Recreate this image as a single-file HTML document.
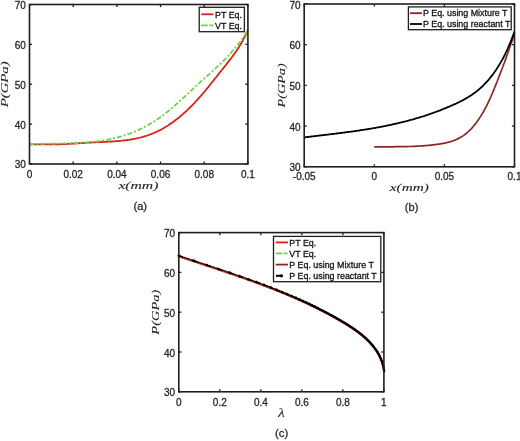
<!DOCTYPE html><html><head><meta charset="utf-8"><style>html,body{margin:0;padding:0;background:#fff;width:520px;height:441px;overflow:hidden}svg{display:block}</style></head><body><svg width="520" height="441" viewBox="0 0 520 441">
<rect width="520" height="441" fill="#fff"/>
<line x1="29.50" y1="164" x2="29.50" y2="161.4" stroke="#1f1f1f" stroke-width="1.3"/>
<line x1="29.50" y1="4.5" x2="29.50" y2="7.1" stroke="#1f1f1f" stroke-width="1.3"/>
<line x1="73.18" y1="164" x2="73.18" y2="161.4" stroke="#1f1f1f" stroke-width="1.3"/>
<line x1="73.18" y1="4.5" x2="73.18" y2="7.1" stroke="#1f1f1f" stroke-width="1.3"/>
<line x1="116.86" y1="164" x2="116.86" y2="161.4" stroke="#1f1f1f" stroke-width="1.3"/>
<line x1="116.86" y1="4.5" x2="116.86" y2="7.1" stroke="#1f1f1f" stroke-width="1.3"/>
<line x1="160.54" y1="164" x2="160.54" y2="161.4" stroke="#1f1f1f" stroke-width="1.3"/>
<line x1="160.54" y1="4.5" x2="160.54" y2="7.1" stroke="#1f1f1f" stroke-width="1.3"/>
<line x1="204.22" y1="164" x2="204.22" y2="161.4" stroke="#1f1f1f" stroke-width="1.3"/>
<line x1="204.22" y1="4.5" x2="204.22" y2="7.1" stroke="#1f1f1f" stroke-width="1.3"/>
<line x1="247.90" y1="164" x2="247.90" y2="161.4" stroke="#1f1f1f" stroke-width="1.3"/>
<line x1="247.90" y1="4.5" x2="247.90" y2="7.1" stroke="#1f1f1f" stroke-width="1.3"/>
<line x1="29.5" y1="164.00" x2="32.1" y2="164.00" stroke="#1f1f1f" stroke-width="1.3"/>
<line x1="247.9" y1="164.00" x2="245.3" y2="164.00" stroke="#1f1f1f" stroke-width="1.3"/>
<line x1="29.5" y1="124.12" x2="32.1" y2="124.12" stroke="#1f1f1f" stroke-width="1.3"/>
<line x1="247.9" y1="124.12" x2="245.3" y2="124.12" stroke="#1f1f1f" stroke-width="1.3"/>
<line x1="29.5" y1="84.25" x2="32.1" y2="84.25" stroke="#1f1f1f" stroke-width="1.3"/>
<line x1="247.9" y1="84.25" x2="245.3" y2="84.25" stroke="#1f1f1f" stroke-width="1.3"/>
<line x1="29.5" y1="44.38" x2="32.1" y2="44.38" stroke="#1f1f1f" stroke-width="1.3"/>
<line x1="247.9" y1="44.38" x2="245.3" y2="44.38" stroke="#1f1f1f" stroke-width="1.3"/>
<line x1="29.5" y1="4.50" x2="32.1" y2="4.50" stroke="#1f1f1f" stroke-width="1.3"/>
<line x1="247.9" y1="4.50" x2="245.3" y2="4.50" stroke="#1f1f1f" stroke-width="1.3"/>
<text x="29.50" y="177.8" text-anchor="middle" style="font-family:'Liberation Sans',Arial,sans-serif;font-size:10px;stroke:#262626;stroke-width:0.28px" fill="#262626">0</text>
<text x="73.18" y="177.8" text-anchor="middle" style="font-family:'Liberation Sans',Arial,sans-serif;font-size:10px;stroke:#262626;stroke-width:0.28px" fill="#262626">0.02</text>
<text x="116.86" y="177.8" text-anchor="middle" style="font-family:'Liberation Sans',Arial,sans-serif;font-size:10px;stroke:#262626;stroke-width:0.28px" fill="#262626">0.04</text>
<text x="160.54" y="177.8" text-anchor="middle" style="font-family:'Liberation Sans',Arial,sans-serif;font-size:10px;stroke:#262626;stroke-width:0.28px" fill="#262626">0.06</text>
<text x="204.22" y="177.8" text-anchor="middle" style="font-family:'Liberation Sans',Arial,sans-serif;font-size:10px;stroke:#262626;stroke-width:0.28px" fill="#262626">0.08</text>
<text x="247.90" y="177.8" text-anchor="middle" style="font-family:'Liberation Sans',Arial,sans-serif;font-size:10px;stroke:#262626;stroke-width:0.28px" fill="#262626">0.1</text>
<text x="25.8" y="168.40" text-anchor="end" style="font-family:'Liberation Sans',Arial,sans-serif;font-size:10px;stroke:#262626;stroke-width:0.28px" fill="#262626">30</text>
<text x="25.8" y="128.53" text-anchor="end" style="font-family:'Liberation Sans',Arial,sans-serif;font-size:10px;stroke:#262626;stroke-width:0.28px" fill="#262626">40</text>
<text x="25.8" y="88.65" text-anchor="end" style="font-family:'Liberation Sans',Arial,sans-serif;font-size:10px;stroke:#262626;stroke-width:0.28px" fill="#262626">50</text>
<text x="25.8" y="48.77" text-anchor="end" style="font-family:'Liberation Sans',Arial,sans-serif;font-size:10px;stroke:#262626;stroke-width:0.28px" fill="#262626">60</text>
<text x="25.8" y="8.90" text-anchor="end" style="font-family:'Liberation Sans',Arial,sans-serif;font-size:10px;stroke:#262626;stroke-width:0.28px" fill="#262626">70</text>
<polyline points="29.5,144.3 30.2,144.3 31.0,144.3 31.7,144.3 32.4,144.3 33.2,144.3 33.9,144.3 34.6,144.3 35.3,144.3 36.1,144.3 36.8,144.3 37.5,144.3 38.3,144.3 39.0,144.3 39.7,144.3 40.5,144.3 41.2,144.3 41.9,144.3 42.6,144.3 43.4,144.3 44.1,144.3 44.8,144.3 45.6,144.3 46.3,144.3 47.0,144.3 47.8,144.3 48.5,144.3 49.2,144.3 50.0,144.3 50.7,144.3 51.4,144.3 52.1,144.3 52.9,144.3 53.6,144.3 54.3,144.3 55.1,144.3 55.8,144.3 56.5,144.3 57.3,144.3 58.0,144.3 58.7,144.3 59.4,144.3 60.2,144.3 60.9,144.3 61.6,144.2 62.4,144.2 63.1,144.2 63.8,144.1 64.6,144.1 65.3,144.1 66.0,144.0 66.8,144.0 67.5,143.9 68.2,143.9 68.9,143.9 69.7,143.8 70.4,143.8 71.1,143.7 71.9,143.7 72.6,143.6 73.3,143.6 74.1,143.5 74.8,143.5 75.5,143.5 76.2,143.4 77.0,143.4 77.7,143.3 78.4,143.3 79.2,143.2 79.9,143.2 80.6,143.1 81.4,143.1 82.1,143.0 82.8,143.0 83.6,143.0 84.3,142.9 85.0,142.9 85.7,142.8 86.5,142.8 87.2,142.7 87.9,142.7 88.7,142.6 89.4,142.6 90.1,142.6 90.9,142.5 91.6,142.5 92.3,142.4 93.0,142.4 93.8,142.4 94.5,142.3 95.2,142.3 96.0,142.3 96.7,142.2 97.4,142.2 98.2,142.2 98.9,142.1 99.6,142.1 100.4,142.1 101.1,142.0 101.8,142.0 102.5,142.0 103.3,141.9 104.0,141.9 104.7,141.9 105.5,141.8 106.2,141.8 106.9,141.8 107.7,141.7 108.4,141.7 109.1,141.6 109.8,141.6 110.6,141.6 111.3,141.5 112.0,141.5 112.8,141.4 113.5,141.4 114.2,141.3 115.0,141.3 115.7,141.2 116.4,141.2 117.2,141.1 117.9,141.1 118.6,141.0 119.3,140.9 120.1,140.9 120.8,140.8 121.5,140.7 122.3,140.7 123.0,140.6 123.7,140.5 124.5,140.4 125.2,140.3 125.9,140.2 126.6,140.1 127.4,140.0 128.1,139.9 128.8,139.8 129.6,139.7 130.3,139.6 131.0,139.5 131.8,139.3 132.5,139.2 133.2,139.1 134.0,138.9 134.7,138.8 135.4,138.7 136.1,138.5 136.9,138.3 137.6,138.2 138.3,138.0 139.1,137.8 139.8,137.7 140.5,137.5 141.3,137.3 142.0,137.1 142.7,136.9 143.4,136.7 144.2,136.5 144.9,136.2 145.6,136.0 146.4,135.8 147.1,135.5 147.8,135.3 148.6,135.0 149.3,134.8 150.0,134.5 150.8,134.2 151.5,134.0 152.2,133.7 152.9,133.4 153.7,133.1 154.4,132.8 155.1,132.4 155.9,132.1 156.6,131.8 157.3,131.4 158.1,131.1 158.8,130.7 159.5,130.3 160.2,130.0 161.0,129.6 161.7,129.2 162.4,128.8 163.2,128.4 163.9,128.0 164.6,127.5 165.4,127.1 166.1,126.6 166.8,126.2 167.6,125.7 168.3,125.3 169.0,124.8 169.7,124.3 170.5,123.8 171.2,123.3 171.9,122.8 172.7,122.3 173.4,121.7 174.1,121.2 174.9,120.6 175.6,120.1 176.3,119.5 177.0,118.9 177.8,118.4 178.5,117.8 179.2,117.2 180.0,116.6 180.7,116.0 181.4,115.3 182.2,114.7 182.9,114.1 183.6,113.4 184.4,112.8 185.1,112.1 185.8,111.5 186.5,110.8 187.3,110.1 188.0,109.4 188.7,108.7 189.5,108.0 190.2,107.3 190.9,106.5 191.7,105.8 192.4,105.1 193.1,104.3 193.8,103.6 194.6,102.8 195.3,102.0 196.0,101.2 196.8,100.4 197.5,99.6 198.2,98.8 199.0,98.0 199.7,97.2 200.4,96.4 201.2,95.5 201.9,94.7 202.6,93.8 203.3,93.0 204.1,92.1 204.8,91.2 205.5,90.4 206.3,89.5 207.0,88.6 207.7,87.7 208.5,86.8 209.2,85.9 209.9,85.0 210.6,84.0 211.4,83.1 212.1,82.2 212.8,81.3 213.6,80.4 214.3,79.4 215.0,78.5 215.8,77.6 216.5,76.7 217.2,75.7 218.0,74.8 218.7,73.9 219.4,73.0 220.1,72.1 220.9,71.1 221.6,70.2 222.3,69.3 223.1,68.4 223.8,67.5 224.5,66.6 225.3,65.7 226.0,64.8 226.7,63.9 227.4,63.0 228.2,62.0 228.9,61.1 229.6,60.2 230.4,59.2 231.1,58.3 231.8,57.3 232.6,56.3 233.3,55.3 234.0,54.3 234.8,53.3 235.5,52.2 236.2,51.2 236.9,50.1 237.7,49.0 238.4,47.8 239.1,46.7 239.9,45.5 240.6,44.3 241.3,43.0 242.1,41.8 242.8,40.5 243.5,39.1 244.2,37.7 245.0,36.3 245.7,34.9 246.4,33.4 247.2,31.9 247.9,30.3" fill="none" stroke="#d8221c" stroke-width="1.8"/>
<polyline points="29.5,144.3 30.2,144.3 31.0,144.2 31.7,144.2 32.4,144.2 33.2,144.1 33.9,144.1 34.6,144.1 35.3,144.0 36.1,144.0 36.8,144.0 37.5,143.9 38.3,143.9 39.0,143.9 39.7,143.9 40.5,143.9 41.2,143.8 41.9,143.8 42.6,143.8 43.4,143.8 44.1,143.8 44.8,143.7 45.6,143.7 46.3,143.7 47.0,143.7 47.8,143.7 48.5,143.7 49.2,143.7 50.0,143.6 50.7,143.6 51.4,143.6 52.1,143.6 52.9,143.6 53.6,143.6 54.3,143.6 55.1,143.6 55.8,143.5 56.5,143.5 57.3,143.5 58.0,143.5 58.7,143.5 59.4,143.5 60.2,143.5 60.9,143.5 61.6,143.5 62.4,143.4 63.1,143.4 63.8,143.4 64.6,143.4 65.3,143.4 66.0,143.4 66.8,143.3 67.5,143.3 68.2,143.3 68.9,143.3 69.7,143.3 70.4,143.2 71.1,143.2 71.9,143.2 72.6,143.2 73.3,143.1 74.1,143.1 74.8,143.1 75.5,143.1 76.2,143.0 77.0,143.0 77.7,143.0 78.4,142.9 79.2,142.9 79.9,142.8 80.6,142.8 81.4,142.8 82.1,142.7 82.8,142.7 83.6,142.6 84.3,142.6 85.0,142.5 85.7,142.5 86.5,142.4 87.2,142.3 87.9,142.3 88.7,142.2 89.4,142.2 90.1,142.1 90.9,142.0 91.6,141.9 92.3,141.9 93.0,141.8 93.8,141.7 94.5,141.6 95.2,141.5 96.0,141.5 96.7,141.4 97.4,141.3 98.2,141.2 98.9,141.1 99.6,141.0 100.4,140.9 101.1,140.8 101.8,140.6 102.5,140.5 103.3,140.4 104.0,140.3 104.7,140.2 105.5,140.0 106.2,139.9 106.9,139.8 107.7,139.6 108.4,139.5 109.1,139.3 109.8,139.2 110.6,139.0 111.3,138.9 112.0,138.7 112.8,138.6 113.5,138.4 114.2,138.2 115.0,138.0 115.7,137.9 116.4,137.7 117.2,137.5 117.9,137.3 118.6,137.1 119.3,136.9 120.1,136.7 120.8,136.5 121.5,136.3 122.3,136.0 123.0,135.8 123.7,135.6 124.5,135.4 125.2,135.1 125.9,134.9 126.6,134.6 127.4,134.4 128.1,134.1 128.8,133.9 129.6,133.6 130.3,133.3 131.0,133.0 131.8,132.8 132.5,132.5 133.2,132.2 134.0,131.9 134.7,131.6 135.4,131.3 136.1,131.0 136.9,130.6 137.6,130.3 138.3,130.0 139.1,129.6 139.8,129.3 140.5,128.9 141.3,128.6 142.0,128.2 142.7,127.9 143.4,127.5 144.2,127.1 144.9,126.7 145.6,126.3 146.4,125.9 147.1,125.5 147.8,125.1 148.6,124.7 149.3,124.3 150.0,123.9 150.8,123.4 151.5,123.0 152.2,122.5 152.9,122.1 153.7,121.6 154.4,121.2 155.1,120.7 155.9,120.2 156.6,119.7 157.3,119.2 158.1,118.7 158.8,118.2 159.5,117.7 160.2,117.2 161.0,116.7 161.7,116.1 162.4,115.6 163.2,115.0 163.9,114.5 164.6,113.9 165.4,113.3 166.1,112.8 166.8,112.2 167.6,111.6 168.3,111.0 169.0,110.4 169.7,109.8 170.5,109.2 171.2,108.6 171.9,108.0 172.7,107.3 173.4,106.7 174.1,106.1 174.9,105.5 175.6,104.8 176.3,104.2 177.0,103.5 177.8,102.9 178.5,102.2 179.2,101.6 180.0,100.9 180.7,100.3 181.4,99.6 182.2,98.9 182.9,98.3 183.6,97.6 184.4,96.9 185.1,96.3 185.8,95.6 186.5,94.9 187.3,94.2 188.0,93.6 188.7,92.9 189.5,92.2 190.2,91.5 190.9,90.8 191.7,90.2 192.4,89.5 193.1,88.8 193.8,88.1 194.6,87.4 195.3,86.7 196.0,86.1 196.8,85.4 197.5,84.7 198.2,84.0 199.0,83.4 199.7,82.7 200.4,82.0 201.2,81.3 201.9,80.7 202.6,80.0 203.3,79.3 204.1,78.7 204.8,78.0 205.5,77.4 206.3,76.7 207.0,76.0 207.7,75.4 208.5,74.7 209.2,74.1 209.9,73.4 210.6,72.8 211.4,72.1 212.1,71.4 212.8,70.8 213.6,70.1 214.3,69.4 215.0,68.8 215.8,68.1 216.5,67.4 217.2,66.7 218.0,66.1 218.7,65.4 219.4,64.7 220.1,64.0 220.9,63.3 221.6,62.6 222.3,61.9 223.1,61.1 223.8,60.4 224.5,59.7 225.3,58.9 226.0,58.2 226.7,57.4 227.4,56.6 228.2,55.9 228.9,55.1 229.6,54.3 230.4,53.5 231.1,52.7 231.8,51.8 232.6,51.0 233.3,50.2 234.0,49.3 234.8,48.4 235.5,47.5 236.2,46.6 236.9,45.7 237.7,44.8 238.4,43.9 239.1,42.9 239.9,42.0 240.6,41.0 241.3,40.0 242.1,39.0 242.8,38.0 243.5,36.9 244.2,35.9 245.0,34.8 245.7,33.7 246.4,32.6 247.2,31.5 247.9,30.3" fill="none" stroke="#6cd44e" stroke-width="1.8" stroke-dasharray="5 2 2 2"/>
<rect x="29.5" y="4.5" width="218.40" height="159.50" fill="none" stroke="#1f1f1f" stroke-width="1.6"/>
<rect x="199.2" y="7.3" width="45.2" height="24.4" fill="#fff" stroke="#1f1f1f" stroke-width="1.3"/>
<line x1="201.3" y1="14.3" x2="213.5" y2="14.3" stroke="#d8221c" stroke-width="1.8"/>
<line x1="201.3" y1="25.3" x2="213.5" y2="25.3" stroke="#6cd44e" stroke-width="1.8" stroke-dasharray="6.5 1.5 3.8 2"/>
<text x="215" y="17.6" style="font-family:'Liberation Sans',Arial,sans-serif;font-size:8.9px;stroke:#111;stroke-width:0.28px" fill="#111">PT Eq.</text>
<text x="215" y="28.6" style="font-family:'Liberation Sans',Arial,sans-serif;font-size:8.9px;stroke:#111;stroke-width:0.28px" fill="#111">VT Eq.</text>
<text x="138.4" y="189.2" text-anchor="middle" textLength="40" lengthAdjust="spacingAndGlyphs" style="font-family:'Liberation Serif','Times New Roman',serif;font-style:italic;font-size:11px;stroke:#262626;stroke-width:0.1px" fill="#262626">x(mm)</text>
<text transform="translate(7.5,84.3) rotate(-90)" text-anchor="middle" textLength="46" lengthAdjust="spacingAndGlyphs" style="font-family:'Liberation Serif','Times New Roman',serif;font-style:italic;font-size:10.6px;stroke:#262626;stroke-width:0.1px" fill="#262626">P(GPa)</text>
<text x="140.3" y="210.2" text-anchor="middle" style="font-family:'Liberation Sans',Arial,sans-serif;font-size:11px;stroke:#262626;stroke-width:0.28px" fill="#262626">(a)</text>
<line x1="304.20" y1="166.8" x2="304.20" y2="164.20000000000002" stroke="#1f1f1f" stroke-width="1.3"/>
<line x1="304.20" y1="4" x2="304.20" y2="6.6" stroke="#1f1f1f" stroke-width="1.3"/>
<line x1="374.30" y1="166.8" x2="374.30" y2="164.20000000000002" stroke="#1f1f1f" stroke-width="1.3"/>
<line x1="374.30" y1="4" x2="374.30" y2="6.6" stroke="#1f1f1f" stroke-width="1.3"/>
<line x1="444.40" y1="166.8" x2="444.40" y2="164.20000000000002" stroke="#1f1f1f" stroke-width="1.3"/>
<line x1="444.40" y1="4" x2="444.40" y2="6.6" stroke="#1f1f1f" stroke-width="1.3"/>
<line x1="514.50" y1="166.8" x2="514.50" y2="164.20000000000002" stroke="#1f1f1f" stroke-width="1.3"/>
<line x1="514.50" y1="4" x2="514.50" y2="6.6" stroke="#1f1f1f" stroke-width="1.3"/>
<line x1="304.2" y1="166.80" x2="306.8" y2="166.80" stroke="#1f1f1f" stroke-width="1.3"/>
<line x1="514.5" y1="166.80" x2="511.9" y2="166.80" stroke="#1f1f1f" stroke-width="1.3"/>
<line x1="304.2" y1="126.10" x2="306.8" y2="126.10" stroke="#1f1f1f" stroke-width="1.3"/>
<line x1="514.5" y1="126.10" x2="511.9" y2="126.10" stroke="#1f1f1f" stroke-width="1.3"/>
<line x1="304.2" y1="85.40" x2="306.8" y2="85.40" stroke="#1f1f1f" stroke-width="1.3"/>
<line x1="514.5" y1="85.40" x2="511.9" y2="85.40" stroke="#1f1f1f" stroke-width="1.3"/>
<line x1="304.2" y1="44.70" x2="306.8" y2="44.70" stroke="#1f1f1f" stroke-width="1.3"/>
<line x1="514.5" y1="44.70" x2="511.9" y2="44.70" stroke="#1f1f1f" stroke-width="1.3"/>
<line x1="304.2" y1="4.00" x2="306.8" y2="4.00" stroke="#1f1f1f" stroke-width="1.3"/>
<line x1="514.5" y1="4.00" x2="511.9" y2="4.00" stroke="#1f1f1f" stroke-width="1.3"/>
<text x="304.20" y="180.0" text-anchor="middle" style="font-family:'Liberation Sans',Arial,sans-serif;font-size:10px;stroke:#262626;stroke-width:0.28px" fill="#262626">-0.05</text>
<text x="374.30" y="180.0" text-anchor="middle" style="font-family:'Liberation Sans',Arial,sans-serif;font-size:10px;stroke:#262626;stroke-width:0.28px" fill="#262626">0</text>
<text x="444.40" y="180.0" text-anchor="middle" style="font-family:'Liberation Sans',Arial,sans-serif;font-size:10px;stroke:#262626;stroke-width:0.28px" fill="#262626">0.05</text>
<text x="514.50" y="180.0" text-anchor="middle" style="font-family:'Liberation Sans',Arial,sans-serif;font-size:10px;stroke:#262626;stroke-width:0.28px" fill="#262626">0.1</text>
<text x="300.7" y="171.40" text-anchor="end" style="font-family:'Liberation Sans',Arial,sans-serif;font-size:10px;stroke:#262626;stroke-width:0.28px" fill="#262626">30</text>
<text x="300.7" y="130.70" text-anchor="end" style="font-family:'Liberation Sans',Arial,sans-serif;font-size:10px;stroke:#262626;stroke-width:0.28px" fill="#262626">40</text>
<text x="300.7" y="90.00" text-anchor="end" style="font-family:'Liberation Sans',Arial,sans-serif;font-size:10px;stroke:#262626;stroke-width:0.28px" fill="#262626">50</text>
<text x="300.7" y="49.30" text-anchor="end" style="font-family:'Liberation Sans',Arial,sans-serif;font-size:10px;stroke:#262626;stroke-width:0.28px" fill="#262626">60</text>
<text x="300.7" y="8.60" text-anchor="end" style="font-family:'Liberation Sans',Arial,sans-serif;font-size:10px;stroke:#262626;stroke-width:0.28px" fill="#262626">70</text>
<polyline points="374.3,146.9 374.8,146.9 375.2,146.9 375.7,146.9 376.2,146.9 376.6,146.9 377.1,146.9 377.6,146.9 378.1,146.9 378.5,146.8 379.0,146.8 379.5,146.8 379.9,146.8 380.4,146.8 380.9,146.8 381.3,146.8 381.8,146.8 382.3,146.8 382.7,146.8 383.2,146.8 383.7,146.8 384.1,146.8 384.6,146.8 385.1,146.8 385.6,146.8 386.0,146.8 386.5,146.8 387.0,146.8 387.4,146.8 387.9,146.8 388.4,146.8 388.8,146.8 389.3,146.8 389.8,146.8 390.2,146.8 390.7,146.8 391.2,146.8 391.6,146.8 392.1,146.8 392.6,146.8 393.1,146.8 393.5,146.8 394.0,146.8 394.5,146.7 394.9,146.7 395.4,146.7 395.9,146.7 396.3,146.7 396.8,146.7 397.3,146.7 397.7,146.7 398.2,146.7 398.7,146.7 399.2,146.7 399.6,146.7 400.1,146.7 400.6,146.7 401.0,146.7 401.5,146.7 402.0,146.7 402.4,146.7 402.9,146.7 403.4,146.6 403.8,146.6 404.3,146.6 404.8,146.6 405.2,146.6 405.7,146.6 406.2,146.6 406.7,146.6 407.1,146.6 407.6,146.6 408.1,146.5 408.5,146.5 409.0,146.5 409.5,146.5 409.9,146.5 410.4,146.5 410.9,146.5 411.3,146.4 411.8,146.4 412.3,146.4 412.7,146.4 413.2,146.4 413.7,146.4 414.2,146.3 414.6,146.3 415.1,146.3 415.6,146.3 416.0,146.2 416.5,146.2 417.0,146.2 417.4,146.2 417.9,146.1 418.4,146.1 418.8,146.1 419.3,146.1 419.8,146.0 420.3,146.0 420.7,146.0 421.2,146.0 421.7,145.9 422.1,145.9 422.6,145.9 423.1,145.8 423.5,145.8 424.0,145.8 424.5,145.7 424.9,145.7 425.4,145.6 425.9,145.6 426.3,145.6 426.8,145.5 427.3,145.5 427.8,145.4 428.2,145.4 428.7,145.3 429.2,145.3 429.6,145.3 430.1,145.2 430.6,145.2 431.0,145.1 431.5,145.1 432.0,145.0 432.4,144.9 432.9,144.9 433.4,144.8 433.8,144.8 434.3,144.7 434.8,144.7 435.3,144.6 435.7,144.5 436.2,144.5 436.7,144.4 437.1,144.4 437.6,144.3 438.1,144.2 438.5,144.1 439.0,144.1 439.5,144.0 439.9,143.9 440.4,143.9 440.9,143.8 441.4,143.7 441.8,143.6 442.3,143.6 442.8,143.5 443.2,143.4 443.7,143.3 444.2,143.2 444.6,143.1 445.1,143.0 445.6,142.9 446.0,142.8 446.5,142.7 447.0,142.6 447.4,142.5 447.9,142.4 448.4,142.3 448.9,142.1 449.3,142.0 449.8,141.9 450.3,141.8 450.7,141.6 451.2,141.5 451.7,141.3 452.1,141.2 452.6,141.0 453.1,140.8 453.5,140.7 454.0,140.5 454.5,140.3 455.0,140.1 455.4,139.9 455.9,139.7 456.4,139.5 456.8,139.3 457.3,139.1 457.8,138.9 458.2,138.6 458.7,138.4 459.2,138.1 459.6,137.9 460.1,137.6 460.6,137.3 461.0,137.1 461.5,136.8 462.0,136.5 462.5,136.2 462.9,135.9 463.4,135.5 463.9,135.2 464.3,134.9 464.8,134.5 465.3,134.2 465.7,133.8 466.2,133.4 466.7,133.0 467.1,132.6 467.6,132.2 468.1,131.8 468.5,131.4 469.0,130.9 469.5,130.5 470.0,130.0 470.4,129.6 470.9,129.1 471.4,128.6 471.8,128.1 472.3,127.6 472.8,127.0 473.2,126.5 473.7,125.9 474.2,125.4 474.6,124.8 475.1,124.2 475.6,123.6 476.1,123.0 476.5,122.4 477.0,121.7 477.5,121.1 477.9,120.4 478.4,119.7 478.9,119.1 479.3,118.4 479.8,117.6 480.3,116.9 480.7,116.2 481.2,115.4 481.7,114.6 482.1,113.9 482.6,113.1 483.1,112.3 483.6,111.4 484.0,110.6 484.5,109.7 485.0,108.9 485.4,108.0 485.9,107.1 486.4,106.2 486.8,105.3 487.3,104.3 487.8,103.4 488.2,102.4 488.7,101.4 489.2,100.4 489.6,99.4 490.1,98.4 490.6,97.3 491.1,96.3 491.5,95.2 492.0,94.1 492.5,93.0 492.9,91.9 493.4,90.8 493.9,89.7 494.3,88.5 494.8,87.4 495.3,86.2 495.7,85.0 496.2,83.8 496.7,82.7 497.2,81.5 497.6,80.3 498.1,79.0 498.6,77.8 499.0,76.6 499.5,75.4 500.0,74.2 500.4,72.9 500.9,71.7 501.4,70.5 501.8,69.2 502.3,68.0 502.8,66.7 503.2,65.5 503.7,64.2 504.2,63.0 504.7,61.7 505.1,60.4 505.6,59.2 506.1,57.9 506.5,56.6 507.0,55.3 507.5,54.0 507.9,52.7 508.4,51.4 508.9,50.0 509.3,48.7 509.8,47.3 510.3,46.0 510.7,44.6 511.2,43.2 511.7,41.8 512.2,40.4 512.6,38.9 513.1,37.5 513.6,36.0 514.0,34.5 514.5,33.0" fill="none" stroke="#8c2823" stroke-width="1.7"/>
<polyline points="304.4,137.4 305.1,137.3 305.8,137.2 306.5,137.1 307.2,137.0 307.9,137.0 308.6,136.9 309.3,136.8 310.0,136.7 310.7,136.6 311.4,136.5 312.1,136.4 312.8,136.4 313.5,136.3 314.2,136.2 314.9,136.1 315.6,136.0 316.3,135.9 317.0,135.9 317.8,135.8 318.5,135.7 319.2,135.6 319.9,135.5 320.6,135.4 321.3,135.4 322.0,135.3 322.7,135.2 323.4,135.1 324.1,135.0 324.8,134.9 325.5,134.9 326.2,134.8 326.9,134.7 327.6,134.6 328.3,134.5 329.0,134.4 329.7,134.4 330.4,134.3 331.1,134.2 331.8,134.1 332.5,134.0 333.2,133.9 333.9,133.8 334.6,133.8 335.3,133.7 336.0,133.6 336.7,133.5 337.4,133.4 338.1,133.3 338.8,133.2 339.5,133.1 340.2,133.0 340.9,133.0 341.6,132.9 342.3,132.8 343.0,132.7 343.7,132.6 344.5,132.5 345.2,132.4 345.9,132.3 346.6,132.2 347.3,132.1 348.0,132.0 348.7,131.9 349.4,131.9 350.1,131.8 350.8,131.7 351.5,131.6 352.2,131.5 352.9,131.4 353.6,131.3 354.3,131.2 355.0,131.1 355.7,131.0 356.4,130.9 357.1,130.8 357.8,130.7 358.5,130.6 359.2,130.5 359.9,130.3 360.6,130.2 361.3,130.1 362.0,130.0 362.7,129.9 363.4,129.8 364.1,129.7 364.8,129.6 365.5,129.5 366.2,129.4 366.9,129.3 367.6,129.1 368.3,129.0 369.0,128.9 369.7,128.8 370.5,128.7 371.2,128.6 371.9,128.4 372.6,128.3 373.3,128.2 374.0,128.1 374.7,128.0 375.4,127.8 376.1,127.7 376.8,127.6 377.5,127.4 378.2,127.3 378.9,127.2 379.6,127.1 380.3,126.9 381.0,126.8 381.7,126.7 382.4,126.5 383.1,126.4 383.8,126.3 384.5,126.1 385.2,126.0 385.9,125.8 386.6,125.7 387.3,125.5 388.0,125.4 388.7,125.3 389.4,125.1 390.1,125.0 390.8,124.8 391.5,124.7 392.2,124.5 392.9,124.4 393.6,124.2 394.3,124.0 395.0,123.9 395.7,123.7 396.5,123.6 397.2,123.4 397.9,123.2 398.6,123.1 399.3,122.9 400.0,122.7 400.7,122.6 401.4,122.4 402.1,122.2 402.8,122.1 403.5,121.9 404.2,121.7 404.9,121.5 405.6,121.3 406.3,121.2 407.0,121.0 407.7,120.8 408.4,120.6 409.1,120.4 409.8,120.2 410.5,120.0 411.2,119.8 411.9,119.7 412.6,119.5 413.3,119.3 414.0,119.1 414.7,118.9 415.4,118.7 416.1,118.4 416.8,118.2 417.5,118.0 418.2,117.8 418.9,117.6 419.6,117.4 420.3,117.2 421.0,117.0 421.7,116.7 422.4,116.5 423.2,116.3 423.9,116.1 424.6,115.9 425.3,115.6 426.0,115.4 426.7,115.2 427.4,114.9 428.1,114.7 428.8,114.4 429.5,114.2 430.2,114.0 430.9,113.7 431.6,113.5 432.3,113.2 433.0,113.0 433.7,112.7 434.4,112.5 435.1,112.2 435.8,112.0 436.5,111.7 437.2,111.4 437.9,111.2 438.6,110.9 439.3,110.6 440.0,110.4 440.7,110.1 441.4,109.8 442.1,109.5 442.8,109.2 443.5,109.0 444.2,108.7 444.9,108.4 445.6,108.1 446.3,107.8 447.0,107.5 447.7,107.2 448.4,106.9 449.2,106.6 449.9,106.3 450.6,106.0 451.3,105.7 452.0,105.4 452.7,105.1 453.4,104.8 454.1,104.4 454.8,104.1 455.5,103.8 456.2,103.5 456.9,103.1 457.6,102.8 458.3,102.5 459.0,102.1 459.7,101.8 460.4,101.4 461.1,101.1 461.8,100.7 462.5,100.4 463.2,100.0 463.9,99.6 464.6,99.2 465.3,98.8 466.0,98.4 466.7,98.0 467.4,97.6 468.1,97.2 468.8,96.8 469.5,96.3 470.2,95.9 470.9,95.4 471.6,95.0 472.3,94.5 473.0,94.0 473.7,93.5 474.4,93.0 475.2,92.4 475.9,91.9 476.6,91.4 477.3,90.8 478.0,90.2 478.7,89.6 479.4,89.0 480.1,88.4 480.8,87.8 481.5,87.2 482.2,86.5 482.9,85.8 483.6,85.1 484.3,84.4 485.0,83.7 485.7,83.0 486.4,82.2 487.1,81.5 487.8,80.7 488.5,79.9 489.2,79.0 489.9,78.2 490.6,77.3 491.3,76.4 492.0,75.5 492.7,74.6 493.4,73.7 494.1,72.7 494.8,71.7 495.5,70.7 496.2,69.7 496.9,68.6 497.6,67.5 498.3,66.4 499.0,65.2 499.7,64.1 500.4,62.9 501.1,61.6 501.9,60.4 502.6,59.1 503.3,57.7 504.0,56.4 504.7,55.0 505.4,53.6 506.1,52.1 506.8,50.6 507.5,49.1 508.2,47.5 508.9,45.9 509.6,44.2 510.3,42.5 511.0,40.8 511.7,39.1 512.4,37.3 513.1,35.4 513.8,33.5 514.5,31.6" fill="none" stroke="#000000" stroke-width="1.8"/>
<rect x="304.2" y="4" width="210.30" height="162.80" fill="none" stroke="#1f1f1f" stroke-width="1.6"/>
<rect x="408.4" y="6.9" width="102.8" height="22.8" fill="#fff" stroke="#1f1f1f" stroke-width="1.3"/>
<line x1="410" y1="13.2" x2="422" y2="13.2" stroke="#8c2823" stroke-width="1.8"/>
<line x1="410" y1="24" x2="422" y2="24" stroke="#000000" stroke-width="1.8"/>
<text x="423" y="16.4" style="font-family:'Liberation Sans',Arial,sans-serif;font-size:8.9px;stroke:#111;stroke-width:0.28px" fill="#111">P Eq. using Mixture T</text>
<text x="423" y="27.2" style="font-family:'Liberation Sans',Arial,sans-serif;font-size:8.9px;stroke:#111;stroke-width:0.28px" fill="#111">P Eq. using reactant T</text>
<text x="409.3" y="190.6" text-anchor="middle" textLength="39" lengthAdjust="spacingAndGlyphs" style="font-family:'Liberation Serif','Times New Roman',serif;font-style:italic;font-size:11px;stroke:#262626;stroke-width:0.1px" fill="#262626">x(mm)</text>
<text transform="translate(285.2,85.4) rotate(-90)" text-anchor="middle" textLength="44" lengthAdjust="spacingAndGlyphs" style="font-family:'Liberation Serif','Times New Roman',serif;font-style:italic;font-size:10.6px;stroke:#262626;stroke-width:0.1px" fill="#262626">P(GPa)</text>
<text x="411.6" y="210.6" text-anchor="middle" style="font-family:'Liberation Sans',Arial,sans-serif;font-size:11px;stroke:#262626;stroke-width:0.28px" fill="#262626">(b)</text>
<line x1="178.80" y1="391.8" x2="178.80" y2="389.2" stroke="#1f1f1f" stroke-width="1.3"/>
<line x1="178.80" y1="232.6" x2="178.80" y2="235.2" stroke="#1f1f1f" stroke-width="1.3"/>
<line x1="219.82" y1="391.8" x2="219.82" y2="389.2" stroke="#1f1f1f" stroke-width="1.3"/>
<line x1="219.82" y1="232.6" x2="219.82" y2="235.2" stroke="#1f1f1f" stroke-width="1.3"/>
<line x1="260.84" y1="391.8" x2="260.84" y2="389.2" stroke="#1f1f1f" stroke-width="1.3"/>
<line x1="260.84" y1="232.6" x2="260.84" y2="235.2" stroke="#1f1f1f" stroke-width="1.3"/>
<line x1="301.86" y1="391.8" x2="301.86" y2="389.2" stroke="#1f1f1f" stroke-width="1.3"/>
<line x1="301.86" y1="232.6" x2="301.86" y2="235.2" stroke="#1f1f1f" stroke-width="1.3"/>
<line x1="342.88" y1="391.8" x2="342.88" y2="389.2" stroke="#1f1f1f" stroke-width="1.3"/>
<line x1="342.88" y1="232.6" x2="342.88" y2="235.2" stroke="#1f1f1f" stroke-width="1.3"/>
<line x1="383.90" y1="391.8" x2="383.90" y2="389.2" stroke="#1f1f1f" stroke-width="1.3"/>
<line x1="383.90" y1="232.6" x2="383.90" y2="235.2" stroke="#1f1f1f" stroke-width="1.3"/>
<line x1="178.8" y1="391.80" x2="181.4" y2="391.80" stroke="#1f1f1f" stroke-width="1.3"/>
<line x1="383.9" y1="391.80" x2="381.29999999999995" y2="391.80" stroke="#1f1f1f" stroke-width="1.3"/>
<line x1="178.8" y1="352.00" x2="181.4" y2="352.00" stroke="#1f1f1f" stroke-width="1.3"/>
<line x1="383.9" y1="352.00" x2="381.29999999999995" y2="352.00" stroke="#1f1f1f" stroke-width="1.3"/>
<line x1="178.8" y1="312.20" x2="181.4" y2="312.20" stroke="#1f1f1f" stroke-width="1.3"/>
<line x1="383.9" y1="312.20" x2="381.29999999999995" y2="312.20" stroke="#1f1f1f" stroke-width="1.3"/>
<line x1="178.8" y1="272.40" x2="181.4" y2="272.40" stroke="#1f1f1f" stroke-width="1.3"/>
<line x1="383.9" y1="272.40" x2="381.29999999999995" y2="272.40" stroke="#1f1f1f" stroke-width="1.3"/>
<line x1="178.8" y1="232.60" x2="181.4" y2="232.60" stroke="#1f1f1f" stroke-width="1.3"/>
<line x1="383.9" y1="232.60" x2="381.29999999999995" y2="232.60" stroke="#1f1f1f" stroke-width="1.3"/>
<text x="178.80" y="406.0" text-anchor="middle" style="font-family:'Liberation Sans',Arial,sans-serif;font-size:10px;stroke:#262626;stroke-width:0.28px" fill="#262626">0</text>
<text x="219.82" y="406.0" text-anchor="middle" style="font-family:'Liberation Sans',Arial,sans-serif;font-size:10px;stroke:#262626;stroke-width:0.28px" fill="#262626">0.2</text>
<text x="260.84" y="406.0" text-anchor="middle" style="font-family:'Liberation Sans',Arial,sans-serif;font-size:10px;stroke:#262626;stroke-width:0.28px" fill="#262626">0.4</text>
<text x="301.86" y="406.0" text-anchor="middle" style="font-family:'Liberation Sans',Arial,sans-serif;font-size:10px;stroke:#262626;stroke-width:0.28px" fill="#262626">0.6</text>
<text x="342.88" y="406.0" text-anchor="middle" style="font-family:'Liberation Sans',Arial,sans-serif;font-size:10px;stroke:#262626;stroke-width:0.28px" fill="#262626">0.8</text>
<text x="383.90" y="406.0" text-anchor="middle" style="font-family:'Liberation Sans',Arial,sans-serif;font-size:10px;stroke:#262626;stroke-width:0.28px" fill="#262626">1</text>
<text x="175.2" y="396.40" text-anchor="end" style="font-family:'Liberation Sans',Arial,sans-serif;font-size:10px;stroke:#262626;stroke-width:0.28px" fill="#262626">30</text>
<text x="175.2" y="356.60" text-anchor="end" style="font-family:'Liberation Sans',Arial,sans-serif;font-size:10px;stroke:#262626;stroke-width:0.28px" fill="#262626">40</text>
<text x="175.2" y="316.80" text-anchor="end" style="font-family:'Liberation Sans',Arial,sans-serif;font-size:10px;stroke:#262626;stroke-width:0.28px" fill="#262626">50</text>
<text x="175.2" y="277.00" text-anchor="end" style="font-family:'Liberation Sans',Arial,sans-serif;font-size:10px;stroke:#262626;stroke-width:0.28px" fill="#262626">60</text>
<text x="175.2" y="237.20" text-anchor="end" style="font-family:'Liberation Sans',Arial,sans-serif;font-size:10px;stroke:#262626;stroke-width:0.28px" fill="#262626">70</text>
<polyline points="178.7,256.5 179.3,256.7 179.9,256.9 180.6,257.1 181.2,257.3 181.8,257.5 182.4,257.8 183.0,258.0 183.7,258.2 184.3,258.4 184.9,258.6 185.5,258.8 186.1,259.0 186.8,259.2 187.4,259.4 188.0,259.6 188.6,259.8 189.2,260.0 189.9,260.3 190.5,260.5 191.1,260.7 191.7,260.9 192.3,261.1 193.0,261.3 193.6,261.5 194.2,261.7 194.8,261.9 195.4,262.1 196.1,262.3 196.7,262.5 197.3,262.7 197.9,262.9 198.5,263.1 199.2,263.3 199.8,263.6 200.4,263.8 201.0,264.0 201.6,264.2 202.3,264.4 202.9,264.6 203.5,264.8 204.1,265.0 204.7,265.2 205.4,265.4 206.0,265.6 206.6,265.8 207.2,266.0 207.8,266.2 208.4,266.4 209.1,266.6 209.7,266.8 210.3,267.1 210.9,267.3 211.5,267.5 212.2,267.7 212.8,267.9 213.4,268.1 214.0,268.3 214.6,268.5 215.3,268.7 215.9,268.9 216.5,269.1 217.1,269.3 217.7,269.5 218.3,269.7 219.0,269.9 219.6,270.2 220.2,270.4 220.8,270.6 221.4,270.8 222.1,271.0 222.7,271.2 223.3,271.4 223.9,271.6 224.5,271.8 225.1,272.0 225.8,272.2 226.4,272.4 227.0,272.6 227.6,272.9 228.2,273.1 228.8,273.3 229.5,273.5 230.1,273.7 230.7,273.9 231.3,274.1 231.9,274.3 232.5,274.5 233.2,274.7 233.8,275.0 234.4,275.2 235.0,275.4 235.6,275.6 236.2,275.8 236.9,276.0 237.5,276.2 238.1,276.4 238.7,276.7 239.3,276.9 239.9,277.1 240.5,277.3 241.2,277.5 241.8,277.7 242.4,277.9 243.0,278.2 243.6,278.4 244.2,278.6 244.8,278.8 245.4,279.0 246.1,279.2 246.7,279.5 247.3,279.7 247.9,279.9 248.5,280.1 249.1,280.3 249.7,280.6 250.4,280.8 251.0,281.0 251.6,281.2 252.2,281.4 252.8,281.7 253.4,281.9 254.0,282.1 254.6,282.3 255.2,282.5 255.9,282.8 256.5,283.0 257.1,283.2 257.7,283.4 258.3,283.7 258.9,283.9 259.5,284.1 260.1,284.3 260.7,284.6 261.3,284.8 262.0,285.0 262.6,285.2 263.2,285.5 263.8,285.7 264.4,285.9 265.0,286.2 265.6,286.4 266.2,286.6 266.8,286.9 267.4,287.1 268.0,287.3 268.6,287.5 269.2,287.8 269.9,288.0 270.5,288.3 271.1,288.5 271.7,288.7 272.3,289.0 272.9,289.2 273.5,289.4 274.1,289.7 274.7,289.9 275.3,290.1 275.9,290.4 276.5,290.6 277.1,290.9 277.7,291.1 278.3,291.3 278.9,291.6 279.5,291.8 280.1,292.1 280.7,292.3 281.3,292.6 281.9,292.8 282.5,293.1 283.1,293.3 283.7,293.6 284.3,293.8 284.9,294.0 285.5,294.3 286.1,294.5 286.7,294.8 287.3,295.1 287.9,295.3 288.5,295.6 289.1,295.8 289.7,296.1 290.3,296.3 290.9,296.6 291.5,296.8 292.1,297.1 292.7,297.3 293.3,297.6 293.9,297.9 294.5,298.1 295.1,298.4 295.7,298.6 296.3,298.9 296.9,299.2 297.5,299.4 298.1,299.7 298.7,300.0 299.3,300.2 299.9,300.5 300.5,300.8 301.1,301.0 301.7,301.3 302.3,301.6 302.9,301.8 303.4,302.1 304.0,302.4 304.6,302.7 305.2,302.9 305.8,303.2 306.4,303.5 307.0,303.8 307.6,304.0 308.2,304.3 308.8,304.6 309.4,304.9 309.9,305.1 310.5,305.4 311.1,305.7 311.7,306.0 312.3,306.3 312.9,306.6 313.5,306.9 314.1,307.1 314.7,307.4 315.2,307.7 315.8,308.0 316.4,308.3 317.0,308.6 317.6,308.9 318.2,309.2 318.8,309.5 319.3,309.8 319.9,310.1 320.5,310.4 321.1,310.7 321.7,310.9 322.3,311.2 322.8,311.6 323.4,311.9 324.0,312.2 324.6,312.5 325.2,312.8 325.7,313.1 326.3,313.4 326.9,313.7 327.5,314.0 328.1,314.3 328.6,314.6 329.2,314.9 329.8,315.2 330.4,315.6 331.0,315.9 331.5,316.2 332.1,316.5 332.7,316.8 333.3,317.1 333.8,317.5 334.4,317.8 335.0,318.1 335.6,318.4 336.1,318.7 336.7,319.1 337.3,319.4 337.9,319.7 338.4,320.1 339.0,320.4 339.6,320.7 340.1,321.1 340.7,321.4 341.3,321.7 341.9,322.1 342.4,322.4 343.0,322.7 343.6,323.1 344.1,323.4 344.7,323.8 345.3,324.1 345.8,324.4 346.4,324.8 347.0,325.1 347.5,325.5 348.1,325.8 348.6,326.2 349.2,326.6 349.7,326.9 350.3,327.3 350.8,327.6 351.4,328.0 351.9,328.4 352.5,328.7 353.0,329.1 353.6,329.5 354.1,329.8 354.7,330.2 355.2,330.6 355.7,331.0 356.3,331.4 356.8,331.7 357.3,332.1 357.8,332.5 358.4,332.9 358.9,333.3 359.4,333.7 359.9,334.1 360.4,334.5 360.9,334.9 361.4,335.3 361.9,335.7 362.4,336.1 362.9,336.6 363.4,337.0 363.9,337.4 364.4,337.8 364.8,338.3 365.3,338.7 365.8,339.1 366.3,339.6 366.7,340.0 367.2,340.4 367.6,340.9 368.1,341.3 368.5,341.8 369.0,342.2 369.4,342.7 369.9,343.2 370.3,343.6 370.7,344.1 371.1,344.6 371.5,345.1 372.0,345.5 372.4,346.0 372.8,346.5 373.2,347.0 373.6,347.5 373.9,348.0 374.3,348.5 374.7,349.0 375.1,349.5 375.4,350.0 375.8,350.6 376.2,351.1 376.5,351.6 376.8,352.2 377.2,352.7 377.5,353.2 377.8,353.8 378.2,354.3 378.5,354.9 378.8,355.4 379.1,356.0 379.4,356.6 379.6,357.1 379.9,357.7 380.2,358.3 380.4,358.9 380.7,359.5 380.9,360.1 381.2,360.7 381.4,361.3 381.6,361.9 381.8,362.5 382.1,363.1 382.3,363.7 382.4,364.4 382.6,365.0 382.8,365.6 383.0,366.3 383.1,366.9 383.3,367.6 383.4,368.2 383.5,368.9 383.6,369.6 383.7,370.2 383.8,370.9 383.9,371.6" fill="none" stroke="#d8221c" stroke-width="1.7"/>
<polyline points="178.9,256.1 179.5,256.3 180.1,256.5 180.8,256.7 181.4,256.9 182.0,257.1 182.6,257.4 183.2,257.6 183.9,257.8 184.5,258.0 185.1,258.2 185.7,258.4 186.3,258.6 187.0,258.8 187.6,259.0 188.2,259.2 188.8,259.4 189.4,259.6 190.1,259.9 190.7,260.1 191.3,260.3 191.9,260.5 192.5,260.7 193.2,260.9 193.8,261.1 194.4,261.3 195.0,261.5 195.6,261.7 196.3,261.9 196.9,262.1 197.5,262.3 198.1,262.5 198.7,262.7 199.4,262.9 200.0,263.2 200.6,263.4 201.2,263.6 201.8,263.8 202.5,264.0 203.1,264.2 203.7,264.4 204.3,264.6 204.9,264.8 205.6,265.0 206.2,265.2 206.8,265.4 207.4,265.6 208.0,265.8 208.6,266.0 209.3,266.2 209.9,266.4 210.5,266.7 211.1,266.9 211.7,267.1 212.4,267.3 213.0,267.5 213.6,267.7 214.2,267.9 214.8,268.1 215.5,268.3 216.1,268.5 216.7,268.7 217.3,268.9 217.9,269.1 218.5,269.3 219.2,269.5 219.8,269.8 220.4,270.0 221.0,270.2 221.6,270.4 222.3,270.6 222.9,270.8 223.5,271.0 224.1,271.2 224.7,271.4 225.3,271.6 226.0,271.8 226.6,272.0 227.2,272.2 227.8,272.5 228.4,272.7 229.0,272.9 229.7,273.1 230.3,273.3 230.9,273.5 231.5,273.7 232.1,273.9 232.7,274.1 233.4,274.3 234.0,274.6 234.6,274.8 235.2,275.0 235.8,275.2 236.4,275.4 237.1,275.6 237.7,275.8 238.3,276.0 238.9,276.3 239.5,276.5 240.1,276.7 240.7,276.9 241.4,277.1 242.0,277.3 242.6,277.5 243.2,277.8 243.8,278.0 244.4,278.2 245.0,278.4 245.6,278.6 246.3,278.8 246.9,279.1 247.5,279.3 248.1,279.5 248.7,279.7 249.3,279.9 249.9,280.2 250.6,280.4 251.2,280.6 251.8,280.8 252.4,281.0 253.0,281.3 253.6,281.5 254.2,281.7 254.8,281.9 255.4,282.1 256.1,282.4 256.7,282.6 257.3,282.8 257.9,283.0 258.5,283.3 259.1,283.5 259.7,283.7 260.3,283.9 260.9,284.2 261.5,284.4 262.2,284.6 262.8,284.8 263.4,285.1 264.0,285.3 264.6,285.5 265.2,285.8 265.8,286.0 266.4,286.2 267.0,286.5 267.6,286.7 268.2,286.9 268.8,287.1 269.4,287.4 270.1,287.6 270.7,287.9 271.3,288.1 271.9,288.3 272.5,288.6 273.1,288.8 273.7,289.0 274.3,289.3 274.9,289.5 275.5,289.7 276.1,290.0 276.7,290.2 277.3,290.5 277.9,290.7 278.5,290.9 279.1,291.2 279.7,291.4 280.3,291.7 280.9,291.9 281.5,292.2 282.1,292.4 282.7,292.7 283.3,292.9 283.9,293.2 284.5,293.4 285.1,293.6 285.7,293.9 286.3,294.1 286.9,294.4 287.5,294.7 288.1,294.9 288.7,295.2 289.3,295.4 289.9,295.7 290.5,295.9 291.1,296.2 291.7,296.4 292.3,296.7 292.9,296.9 293.5,297.2 294.1,297.5 294.7,297.7 295.3,298.0 295.9,298.2 296.5,298.5 297.1,298.8 297.7,299.0 298.3,299.3 298.9,299.6 299.5,299.8 300.1,300.1 300.7,300.4 301.3,300.6 301.9,300.9 302.5,301.2 303.1,301.4 303.6,301.7 304.2,302.0 304.8,302.3 305.4,302.5 306.0,302.8 306.6,303.1 307.2,303.4 307.8,303.6 308.4,303.9 309.0,304.2 309.6,304.5 310.1,304.7 310.7,305.0 311.3,305.3 311.9,305.6 312.5,305.9 313.1,306.2 313.7,306.5 314.3,306.7 314.9,307.0 315.4,307.3 316.0,307.6 316.6,307.9 317.2,308.2 317.8,308.5 318.4,308.8 319.0,309.1 319.5,309.4 320.1,309.7 320.7,310.0 321.3,310.3 321.9,310.5 322.5,310.8 323.0,311.2 323.6,311.5 324.2,311.8 324.8,312.1 325.4,312.4 325.9,312.7 326.5,313.0 327.1,313.3 327.7,313.6 328.3,313.9 328.8,314.2 329.4,314.5 330.0,314.8 330.6,315.2 331.2,315.5 331.7,315.8 332.3,316.1 332.9,316.4 333.5,316.7 334.0,317.1 334.6,317.4 335.2,317.7 335.8,318.0 336.3,318.3 336.9,318.7 337.5,319.0 338.1,319.3 338.6,319.7 339.2,320.0 339.8,320.3 340.3,320.7 340.9,321.0 341.5,321.3 342.1,321.7 342.6,322.0 343.2,322.3 343.8,322.7 344.3,323.0 344.9,323.4 345.5,323.7 346.0,324.0 346.6,324.4 347.2,324.7 347.7,325.1 348.3,325.4 348.8,325.8 349.4,326.2 349.9,326.5 350.5,326.9 351.0,327.2 351.6,327.6 352.1,328.0 352.7,328.3 353.2,328.7 353.8,329.1 354.3,329.4 354.9,329.8 355.4,330.2 355.9,330.6 356.5,331.0 357.0,331.3 357.5,331.7 358.0,332.1 358.6,332.5 359.1,332.9 359.6,333.3 360.1,333.7 360.6,334.1 361.1,334.5 361.6,334.9 362.1,335.3 362.6,335.7 363.1,336.2 363.6,336.6 364.1,337.0 364.6,337.4 365.0,337.9 365.5,338.3 366.0,338.7 366.5,339.2 366.9,339.6 367.4,340.0 367.8,340.5 368.3,340.9 368.7,341.4 369.2,341.8 369.6,342.3 370.1,342.8 370.5,343.2 370.9,343.7 371.3,344.2 371.7,344.7 372.2,345.1 372.6,345.6 373.0,346.1 373.4,346.6 373.8,347.1 374.1,347.6 374.5,348.1 374.9,348.6 375.3,349.1 375.6,349.6 376.0,350.2 376.4,350.7 376.7,351.2 377.0,351.8 377.4,352.3 377.7,352.8 378.0,353.4 378.4,353.9 378.7,354.5 379.0,355.0 379.3,355.6 379.6,356.2 379.8,356.7 380.1,357.3 380.4,357.9 380.6,358.5 380.9,359.1 381.1,359.7 381.4,360.3 381.6,360.9 381.8,361.5 382.0,362.1 382.3,362.7 382.5,363.3 382.6,364.0 382.8,364.6 383.0,365.2 383.2,365.9 383.3,366.5 383.5,367.2 383.6,367.8 383.7,368.5 383.8,369.2 383.9,369.8 384.0,370.5 384.1,371.2" fill="none" stroke="#6cd44e" stroke-width="1.4" stroke-dasharray="5 2 2 2"/>
<polyline points="178.9,255.8 179.5,256.0 180.1,256.2 180.8,256.4 181.4,256.6 182.0,256.8 182.6,257.1 183.2,257.3 183.9,257.5 184.5,257.7 185.1,257.9 185.7,258.1 186.3,258.3 187.0,258.5 187.6,258.7 188.2,258.9 188.8,259.1 189.4,259.3 190.1,259.6 190.7,259.8 191.3,260.0 191.9,260.2 192.5,260.4 193.2,260.6 193.8,260.8 194.4,261.0 195.0,261.2 195.6,261.4 196.3,261.6 196.9,261.8 197.5,262.0 198.1,262.2 198.7,262.4 199.4,262.6 200.0,262.9 200.6,263.1 201.2,263.3 201.8,263.5 202.5,263.7 203.1,263.9 203.7,264.1 204.3,264.3 204.9,264.5 205.6,264.7 206.2,264.9 206.8,265.1 207.4,265.3 208.0,265.5 208.6,265.7 209.3,265.9 209.9,266.1 210.5,266.4 211.1,266.6 211.7,266.8 212.4,267.0 213.0,267.2 213.6,267.4 214.2,267.6 214.8,267.8 215.5,268.0 216.1,268.2 216.7,268.4 217.3,268.6 217.9,268.8 218.5,269.0 219.2,269.2 219.8,269.5 220.4,269.7 221.0,269.9 221.6,270.1 222.3,270.3 222.9,270.5 223.5,270.7 224.1,270.9 224.7,271.1 225.3,271.3 226.0,271.5 226.6,271.7 227.2,271.9 227.8,272.2 228.4,272.4 229.0,272.6 229.7,272.8 230.3,273.0 230.9,273.2 231.5,273.4 232.1,273.6 232.7,273.8 233.4,274.0 234.0,274.3 234.6,274.5 235.2,274.7 235.8,274.9 236.4,275.1 237.1,275.3 237.7,275.5 238.3,275.7 238.9,276.0 239.5,276.2 240.1,276.4 240.7,276.6 241.4,276.8 242.0,277.0 242.6,277.2 243.2,277.5 243.8,277.7 244.4,277.9 245.0,278.1 245.6,278.3 246.3,278.5 246.9,278.8 247.5,279.0 248.1,279.2 248.7,279.4 249.3,279.6 249.9,279.9 250.6,280.1 251.2,280.3 251.8,280.5 252.4,280.7 253.0,281.0 253.6,281.2 254.2,281.4 254.8,281.6 255.4,281.8 256.1,282.1 256.7,282.3 257.3,282.5 257.9,282.7 258.5,283.0 259.1,283.2 259.7,283.4 260.3,283.6 260.9,283.9 261.5,284.1 262.2,284.3 262.8,284.5 263.4,284.8 264.0,285.0 264.6,285.2 265.2,285.5 265.8,285.7 266.4,285.9 267.0,286.2 267.6,286.4 268.2,286.6 268.8,286.8 269.4,287.1 270.1,287.3 270.7,287.6 271.3,287.8 271.9,288.0 272.5,288.3 273.1,288.5 273.7,288.7 274.3,289.0 274.9,289.2 275.5,289.4 276.1,289.7 276.7,289.9 277.3,290.2 277.9,290.4 278.5,290.6 279.1,290.9 279.7,291.1 280.3,291.4 280.9,291.6 281.5,291.9 282.1,292.1 282.7,292.4 283.3,292.6 283.9,292.9 284.5,293.1 285.1,293.3 285.7,293.6 286.3,293.8 286.9,294.1 287.5,294.4 288.1,294.6 288.7,294.9 289.3,295.1 289.9,295.4 290.5,295.6 291.1,295.9 291.7,296.1 292.3,296.4 292.9,296.6 293.5,296.9 294.1,297.2 294.7,297.4 295.3,297.7 295.9,297.9 296.5,298.2 297.1,298.5 297.7,298.7 298.3,299.0 298.9,299.3 299.5,299.5 300.1,299.8 300.7,300.1 301.3,300.3 301.9,300.6 302.5,300.9 303.1,301.1 303.6,301.4 304.2,301.7 304.8,302.0 305.4,302.2 306.0,302.5 306.6,302.8 307.2,303.1 307.8,303.3 308.4,303.6 309.0,303.9 309.6,304.2 310.1,304.4 310.7,304.7 311.3,305.0 311.9,305.3 312.5,305.6 313.1,305.9 313.7,306.2 314.3,306.4 314.9,306.7 315.4,307.0 316.0,307.3 316.6,307.6 317.2,307.9 317.8,308.2 318.4,308.5 319.0,308.8 319.5,309.1 320.1,309.4 320.7,309.7 321.3,310.0 321.9,310.2 322.5,310.5 323.0,310.9 323.6,311.2 324.2,311.5 324.8,311.8 325.4,312.1 325.9,312.4 326.5,312.7 327.1,313.0 327.7,313.3 328.3,313.6 328.8,313.9 329.4,314.2 330.0,314.5 330.6,314.9 331.2,315.2 331.7,315.5 332.3,315.8 332.9,316.1 333.5,316.4 334.0,316.8 334.6,317.1 335.2,317.4 335.8,317.7 336.3,318.0 336.9,318.4 337.5,318.7 338.1,319.0 338.6,319.4 339.2,319.7 339.8,320.0 340.3,320.4 340.9,320.7 341.5,321.0 342.1,321.4 342.6,321.7 343.2,322.0 343.8,322.4 344.3,322.7 344.9,323.1 345.5,323.4 346.0,323.7 346.6,324.1 347.2,324.4 347.7,324.8 348.3,325.1 348.8,325.5 349.4,325.9 349.9,326.2 350.5,326.6 351.0,326.9 351.6,327.3 352.1,327.7 352.7,328.0 353.2,328.4 353.8,328.8 354.3,329.1 354.9,329.5 355.4,329.9 355.9,330.3 356.5,330.7 357.0,331.0 357.5,331.4 358.0,331.8 358.6,332.2 359.1,332.6 359.6,333.0 360.1,333.4 360.6,333.8 361.1,334.2 361.6,334.6 362.1,335.0 362.6,335.4 363.1,335.9 363.6,336.3 364.1,336.7 364.6,337.1 365.0,337.6 365.5,338.0 366.0,338.4 366.5,338.9 366.9,339.3 367.4,339.7 367.8,340.2 368.3,340.6 368.7,341.1 369.2,341.5 369.6,342.0 370.1,342.5 370.5,342.9 370.9,343.4 371.3,343.9 371.7,344.4 372.2,344.8 372.6,345.3 373.0,345.8 373.4,346.3 373.8,346.8 374.1,347.3 374.5,347.8 374.9,348.3 375.3,348.8 375.6,349.3 376.0,349.9 376.4,350.4 376.7,350.9 377.0,351.5 377.4,352.0 377.7,352.5 378.0,353.1 378.4,353.6 378.7,354.2 379.0,354.7 379.3,355.3 379.6,355.9 379.8,356.4 380.1,357.0 380.4,357.6 380.6,358.2 380.9,358.8 381.1,359.4 381.4,360.0 381.6,360.6 381.8,361.2 382.0,361.8 382.3,362.4 382.5,363.0 382.6,363.7 382.8,364.3 383.0,364.9 383.2,365.6 383.3,366.2 383.5,366.9 383.6,367.5 383.7,368.2 383.8,368.9 383.9,369.5 384.0,370.2 384.1,370.9" fill="none" stroke="#8c2823" stroke-width="1.8"/>
<polyline points="178.9,255.8 179.5,256.0 180.1,256.2 180.8,256.4 181.4,256.6 182.0,256.8 182.6,257.1 183.2,257.3 183.9,257.5 184.5,257.7 185.1,257.9 185.7,258.1 186.3,258.3 187.0,258.5 187.6,258.7 188.2,258.9 188.8,259.1 189.4,259.3 190.1,259.6 190.7,259.8 191.3,260.0 191.9,260.2 192.5,260.4 193.2,260.6 193.8,260.8 194.4,261.0 195.0,261.2 195.6,261.4 196.3,261.6 196.9,261.8 197.5,262.0 198.1,262.2 198.7,262.4 199.4,262.6 200.0,262.9 200.6,263.1 201.2,263.3 201.8,263.5 202.5,263.7 203.1,263.9 203.7,264.1 204.3,264.3 204.9,264.5 205.6,264.7 206.2,264.9 206.8,265.1 207.4,265.3 208.0,265.5 208.6,265.7 209.3,265.9 209.9,266.1 210.5,266.4 211.1,266.6 211.7,266.8 212.4,267.0 213.0,267.2 213.6,267.4 214.2,267.6 214.8,267.8 215.5,268.0 216.1,268.2 216.7,268.4 217.3,268.6 217.9,268.8 218.5,269.0 219.2,269.2 219.8,269.5 220.4,269.7 221.0,269.9 221.6,270.1 222.3,270.3 222.9,270.5 223.5,270.7 224.1,270.9 224.7,271.1 225.3,271.3 226.0,271.5 226.6,271.7 227.2,271.9 227.8,272.2 228.4,272.4 229.0,272.6 229.7,272.8 230.3,273.0 230.9,273.2 231.5,273.4 232.1,273.6 232.7,273.8 233.4,274.0 234.0,274.3 234.6,274.5 235.2,274.7 235.8,274.9 236.4,275.1 237.1,275.3 237.7,275.5 238.3,275.7 238.9,276.0 239.5,276.2 240.1,276.4 240.7,276.6 241.4,276.8 242.0,277.0 242.6,277.2 243.2,277.5 243.8,277.7 244.4,277.9 245.0,278.1 245.6,278.3 246.3,278.5 246.9,278.8 247.5,279.0 248.1,279.2 248.7,279.4 249.3,279.6 249.9,279.9 250.6,280.1 251.2,280.3 251.8,280.5 252.4,280.7 253.0,281.0 253.6,281.2 254.2,281.4 254.8,281.6 255.4,281.8 256.1,282.1 256.7,282.3 257.3,282.5 257.9,282.7 258.5,283.0 259.1,283.2 259.7,283.4 260.3,283.6 260.9,283.9 261.5,284.1 262.2,284.3 262.8,284.5 263.4,284.8 264.0,285.0 264.6,285.2 265.2,285.5 265.8,285.7 266.4,285.9 267.0,286.2 267.6,286.4 268.2,286.6 268.8,286.8 269.4,287.1 270.1,287.3 270.7,287.6 271.3,287.8 271.9,288.0 272.5,288.3 273.1,288.5 273.7,288.7 274.3,289.0 274.9,289.2 275.5,289.4 276.1,289.7 276.7,289.9 277.3,290.2 277.9,290.4 278.5,290.6 279.1,290.9 279.7,291.1 280.3,291.4 280.9,291.6 281.5,291.9 282.1,292.1 282.7,292.4 283.3,292.6 283.9,292.9 284.5,293.1 285.1,293.3 285.7,293.6 286.3,293.8 286.9,294.1 287.5,294.4 288.1,294.6 288.7,294.9 289.3,295.1 289.9,295.4 290.5,295.6 291.1,295.9 291.7,296.1 292.3,296.4 292.9,296.6 293.5,296.9 294.1,297.2 294.7,297.4 295.3,297.7 295.9,297.9 296.5,298.2 297.1,298.5 297.7,298.7 298.3,299.0 298.9,299.3 299.5,299.5 300.1,299.8 300.7,300.1 301.3,300.3 301.9,300.6 302.5,300.9 303.1,301.1 303.6,301.4 304.2,301.7 304.8,302.0 305.4,302.2 306.0,302.5 306.6,302.8 307.2,303.1 307.8,303.3 308.4,303.6 309.0,303.9 309.6,304.2 310.1,304.4 310.7,304.7 311.3,305.0 311.9,305.3 312.5,305.6 313.1,305.9 313.7,306.2 314.3,306.4 314.9,306.7 315.4,307.0 316.0,307.3 316.6,307.6 317.2,307.9 317.8,308.2 318.4,308.5 319.0,308.8 319.5,309.1 320.1,309.4 320.7,309.7 321.3,310.0 321.9,310.2 322.5,310.5 323.0,310.9 323.6,311.2 324.2,311.5 324.8,311.8 325.4,312.1 325.9,312.4 326.5,312.7 327.1,313.0 327.7,313.3 328.3,313.6 328.8,313.9 329.4,314.2 330.0,314.5 330.6,314.9 331.2,315.2 331.7,315.5 332.3,315.8 332.9,316.1 333.5,316.4 334.0,316.8 334.6,317.1 335.2,317.4 335.8,317.7 336.3,318.0 336.9,318.4 337.5,318.7 338.1,319.0 338.6,319.4 339.2,319.7 339.8,320.0 340.3,320.4 340.9,320.7 341.5,321.0 342.1,321.4 342.6,321.7 343.2,322.0 343.8,322.4 344.3,322.7 344.9,323.1 345.5,323.4 346.0,323.7 346.6,324.1 347.2,324.4 347.7,324.8 348.3,325.1 348.8,325.5 349.4,325.9 349.9,326.2 350.5,326.6 351.0,326.9 351.6,327.3 352.1,327.7 352.7,328.0 353.2,328.4 353.8,328.8 354.3,329.1 354.9,329.5 355.4,329.9 355.9,330.3 356.5,330.7 357.0,331.0 357.5,331.4 358.0,331.8 358.6,332.2 359.1,332.6 359.6,333.0 360.1,333.4 360.6,333.8 361.1,334.2 361.6,334.6 362.1,335.0 362.6,335.4 363.1,335.9 363.6,336.3 364.1,336.7 364.6,337.1 365.0,337.6 365.5,338.0 366.0,338.4 366.5,338.9 366.9,339.3 367.4,339.7 367.8,340.2 368.3,340.6 368.7,341.1 369.2,341.5 369.6,342.0 370.1,342.5 370.5,342.9 370.9,343.4 371.3,343.9 371.7,344.4 372.2,344.8 372.6,345.3 373.0,345.8 373.4,346.3 373.8,346.8 374.1,347.3 374.5,347.8 374.9,348.3 375.3,348.8 375.6,349.3 376.0,349.9 376.4,350.4 376.7,350.9 377.0,351.5 377.4,352.0 377.7,352.5 378.0,353.1 378.4,353.6 378.7,354.2 379.0,354.7 379.3,355.3 379.6,355.9 379.8,356.4 380.1,357.0 380.4,357.6 380.6,358.2 380.9,358.8 381.1,359.4 381.4,360.0 381.6,360.6 381.8,361.2 382.0,361.8 382.3,362.4 382.5,363.0 382.6,363.7 382.8,364.3 383.0,364.9 383.2,365.6 383.3,366.2 383.5,366.9 383.6,367.5 383.7,368.2 383.8,368.9 383.9,369.5 384.0,370.2 384.1,370.9" fill="none" stroke="#000" stroke-width="0.8" stroke-opacity="0.8"/>
<polyline points="178.9,255.8 179.5,256.0 180.1,256.2 180.8,256.4 181.4,256.6 182.0,256.8 182.6,257.1 182.8,257.1" fill="none" stroke="#000" stroke-width="1.5"/>
<polyline points="193.2,260.6 193.9,260.8 194.6,261.1 195.3,261.3 195.9,261.5 196.6,261.7 197.3,262.0 197.4,262.0" fill="none" stroke="#000" stroke-width="1.5"/>
<polyline points="206.4,265.0 207.1,265.2 207.8,265.5 208.5,265.7 209.2,265.9 209.9,266.1 210.6,266.4 210.7,266.4" fill="none" stroke="#000" stroke-width="1.5"/>
<polyline points="218.4,269.0 219.1,269.2 219.8,269.5 220.5,269.7 221.2,269.9 221.9,270.2 222.6,270.4 222.6,270.4" fill="none" stroke="#000" stroke-width="1.5"/>
<polyline points="229.2,272.6 229.9,272.9 230.6,273.1 231.3,273.3 232.0,273.6 232.7,273.8 233.4,274.0 233.4,274.1" fill="none" stroke="#000" stroke-width="1.5"/>
<polyline points="239.0,276.0 239.7,276.3 240.4,276.5 241.1,276.7 241.8,277.0 242.5,277.2 243.2,277.5 243.3,277.5" fill="none" stroke="#000" stroke-width="1.5"/>
<polyline points="247.9,279.1 248.6,279.4 249.3,279.6 250.0,279.9 250.7,280.1 251.4,280.4 252.1,280.6 252.2,280.6" fill="none" stroke="#000" stroke-width="1.5"/>
<polyline points="256.1,282.1 256.7,282.3 257.4,282.6 258.1,282.8 258.8,283.1 259.5,283.3 260.2,283.6 260.2,283.6" fill="none" stroke="#000" stroke-width="1.5"/>
<polyline points="263.4,284.8 264.1,285.0 264.7,285.3 265.4,285.5 266.1,285.8 266.8,286.1 267.5,286.3 267.5,286.4" fill="none" stroke="#000" stroke-width="1.5"/>
<polyline points="270.1,287.3 270.7,287.6 271.4,287.8 272.1,288.1 272.8,288.4 273.5,288.6 274.1,288.9 274.2,288.9" fill="none" stroke="#000" stroke-width="1.5"/>
<polyline points="276.1,289.7 276.8,290.0 277.5,290.2 278.1,290.5 278.8,290.8 279.5,291.0 280.2,291.3 280.3,291.3" fill="none" stroke="#000" stroke-width="1.5"/>
<polyline points="281.6,291.9 282.3,292.2 283.0,292.5 283.6,292.7 284.3,293.0 285.0,293.3 285.7,293.6 285.7,293.6" fill="none" stroke="#000" stroke-width="1.5"/>
<polyline points="286.6,294.0 287.3,294.3 288.0,294.5 288.7,294.8 289.3,295.1 290.0,295.4 290.7,295.7 290.8,295.7" fill="none" stroke="#000" stroke-width="1.5"/>
<polyline points="291.3,295.9 292.0,296.2 292.6,296.5 293.3,296.8 294.0,297.1 294.6,297.4 295.3,297.7 295.4,297.7" fill="none" stroke="#000" stroke-width="1.5"/>
<polyline points="295.5,297.7 296.1,298.0 296.8,298.3 297.5,298.6 298.2,298.9 298.8,299.2 299.5,299.5 299.6,299.6" fill="none" stroke="#000" stroke-width="1.5"/>
<polyline points="299.3,299.4 299.9,299.7 300.6,300.0 301.3,300.3 301.9,300.6 302.6,300.9 303.3,301.2 303.3,301.3" fill="none" stroke="#000" stroke-width="1.5"/>
<polyline points="302.8,301.0 303.4,301.3 304.1,301.6 304.8,301.9 305.4,302.2 306.1,302.5 306.8,302.8 306.8,302.9" fill="none" stroke="#000" stroke-width="1.5"/>
<polyline points="305.9,302.4 306.5,302.7 307.2,303.1 307.9,303.4 308.5,303.7 309.2,304.0 309.9,304.3 309.9,304.3" fill="none" stroke="#000" stroke-width="1.5"/>
<polyline points="308.7,303.8 309.4,304.1 310.1,304.4 310.7,304.7 311.4,305.0 312.1,305.4 312.7,305.7 312.8,305.7" fill="none" stroke="#000" stroke-width="1.5"/>
<polyline points="311.4,305.0 312.1,305.4 312.7,305.7 313.4,306.0 314.0,306.3 314.7,306.7 315.4,307.0 315.4,307.0" fill="none" stroke="#000" stroke-width="1.5"/>
<polyline points="313.7,306.2 314.4,306.5 315.1,306.8 315.7,307.2 316.4,307.5 317.0,307.8 317.7,308.1 317.8,308.2" fill="none" stroke="#000" stroke-width="1.5"/>
<circle cx="178.90" cy="255.80" r="1.4" fill="#000"/>
<circle cx="193.55" cy="260.72" r="1.4" fill="#000"/>
<circle cx="206.79" cy="265.12" r="1.4" fill="#000"/>
<circle cx="218.78" cy="269.12" r="1.4" fill="#000"/>
<circle cx="229.58" cy="272.76" r="1.4" fill="#000"/>
<circle cx="239.43" cy="276.15" r="1.4" fill="#000"/>
<circle cx="248.33" cy="279.28" r="1.4" fill="#000"/>
<circle cx="256.44" cy="282.20" r="1.4" fill="#000"/>
<circle cx="263.75" cy="284.92" r="1.4" fill="#000"/>
<circle cx="270.43" cy="287.46" r="1.4" fill="#000"/>
<circle cx="276.48" cy="289.84" r="1.4" fill="#000"/>
<circle cx="281.99" cy="292.05" r="1.4" fill="#000"/>
<circle cx="287.02" cy="294.13" r="1.4" fill="#000"/>
<circle cx="291.66" cy="296.10" r="1.4" fill="#000"/>
<circle cx="295.84" cy="297.91" r="1.4" fill="#000"/>
<circle cx="299.64" cy="299.59" r="1.4" fill="#000"/>
<circle cx="303.13" cy="301.17" r="1.4" fill="#000"/>
<circle cx="306.23" cy="302.61" r="1.4" fill="#000"/>
<circle cx="309.11" cy="303.96" r="1.4" fill="#000"/>
<circle cx="311.76" cy="305.22" r="1.4" fill="#000"/>
<circle cx="314.12" cy="306.37" r="1.4" fill="#000"/>
<polyline points="314.1,306.4 314.6,306.6 315.0,306.8 315.4,307.0 315.9,307.2 316.3,307.4 316.8,307.7 317.2,307.9 317.6,308.1 318.1,308.3 318.5,308.5 319.0,308.8 319.4,309.0 319.8,309.2 320.3,309.4 320.7,309.7 321.1,309.9 321.6,310.1 322.0,310.3 322.5,310.5 322.9,310.8 323.3,311.0 323.8,311.2 324.2,311.5 324.6,311.7 325.1,311.9 325.5,312.1 325.9,312.4 326.4,312.6 326.8,312.8 327.2,313.1 327.7,313.3 328.1,313.5 328.6,313.8 329.0,314.0 329.4,314.2 329.9,314.5 330.3,314.7 330.7,314.9 331.2,315.2 331.6,315.4 332.0,315.6 332.5,315.9 332.9,316.1 333.3,316.4 333.7,316.6 334.2,316.8 334.6,317.1 335.0,317.3 335.5,317.6 335.9,317.8 336.3,318.0 336.8,318.3 337.2,318.5 337.6,318.8 338.1,319.0 338.5,319.3 338.9,319.5 339.3,319.8 339.8,320.0 340.2,320.3 340.6,320.5 341.1,320.8 341.5,321.0 341.9,321.3 342.3,321.5 342.8,321.8 343.2,322.0 343.6,322.3 344.0,322.5 344.5,322.8 344.9,323.1 345.3,323.3 345.7,323.6 346.2,323.8 346.6,324.1 347.0,324.4 347.4,324.6 347.9,324.9 348.3,325.1 348.7,325.4 349.1,325.7 349.5,325.9 349.9,326.2 350.4,326.5 350.8,326.8 351.2,327.0 351.6,327.3 352.0,327.6 352.4,327.8 352.8,328.1 353.2,328.4 353.6,328.7 354.0,329.0 354.5,329.2 354.9,329.5 355.3,329.8 355.7,330.1 356.1,330.4 356.5,330.7 356.8,330.9 357.2,331.2 357.6,331.5 358.0,331.8 358.4,332.1 358.8,332.4 359.2,332.7 359.6,333.0 360.0,333.3 360.4,333.6 360.7,333.9 361.1,334.2 361.5,334.5 361.9,334.8 362.2,335.1 362.6,335.4 363.0,335.8 363.3,336.1 363.7,336.4 364.1,336.7 364.4,337.0 364.8,337.3 365.2,337.7 365.5,338.0 365.9,338.3 366.2,338.6 366.6,339.0 366.9,339.3 367.3,339.6 367.6,340.0 368.0,340.3 368.3,340.6 368.6,341.0 369.0,341.3 369.3,341.7 369.6,342.0 369.9,342.4 370.3,342.7 370.6,343.1 370.9,343.4 371.2,343.8 371.5,344.1 371.9,344.5 372.2,344.8 372.5,345.2 372.8,345.6 373.1,345.9 373.4,346.3 373.7,346.7 374.0,347.1 374.2,347.4 374.5,347.8 374.8,348.2 375.1,348.6 375.4,349.0 375.6,349.3 375.9,349.7 376.2,350.1 376.4,350.5 376.7,350.9 377.0,351.3 377.2,351.7 377.5,352.1 377.7,352.5 378.0,352.9 378.2,353.4 378.4,353.8 378.7,354.2 378.9,354.6 379.1,355.0 379.3,355.4 379.6,355.9 379.8,356.3 380.0,356.7 380.2,357.2 380.4,357.6 380.6,358.0 380.8,358.5 381.0,358.9 381.1,359.4 381.3,359.8 381.5,360.3 381.7,360.7 381.8,361.2 382.0,361.6 382.2,362.1 382.3,362.6 382.5,363.0 382.6,363.5 382.7,364.0 382.9,364.5 383.0,364.9 383.1,365.4 383.2,365.9 383.4,366.4 383.5,366.9 383.6,367.4 383.7,367.9 383.8,368.4 383.8,368.9 383.9,369.4 384.0,369.9 384.1,370.4 384.1,370.9 384.2,371.4" fill="none" stroke="#000" stroke-width="2.3" stroke-linecap="round"/>
<rect x="178.8" y="232.6" width="205.10" height="159.20" fill="none" stroke="#1f1f1f" stroke-width="1.6"/>
<rect x="273.5" y="236.4" width="107.3" height="45.3" fill="#fff" stroke="#1f1f1f" stroke-width="1.3"/>
<line x1="275.7" y1="242.4" x2="288" y2="242.4" stroke="#d8221c" stroke-width="1.8"/>
<line x1="275.7" y1="253.4" x2="288" y2="253.4" stroke="#6cd44e" stroke-width="1.8" stroke-dasharray="6.5 1.5 3.8 2"/>
<line x1="275.7" y1="264.6" x2="288" y2="264.6" stroke="#8c2823" stroke-width="1.8"/>
<line x1="276" y1="275.8" x2="282" y2="275.8" stroke="#000" stroke-width="2"/>
<circle cx="281.5" cy="275.8" r="1.6" fill="#000"/>
<text x="289.3" y="245.6" style="font-family:'Liberation Sans',Arial,sans-serif;font-size:8.9px;stroke:#111;stroke-width:0.28px" fill="#111">PT Eq.</text>
<text x="289.3" y="256.6" style="font-family:'Liberation Sans',Arial,sans-serif;font-size:8.9px;stroke:#111;stroke-width:0.28px" fill="#111">VT Eq.</text>
<text x="289.3" y="267.8" style="font-family:'Liberation Sans',Arial,sans-serif;font-size:8.9px;stroke:#111;stroke-width:0.28px" fill="#111">P Eq. using Mixture T</text>
<text x="289.3" y="279.0" style="font-family:'Liberation Sans',Arial,sans-serif;font-size:8.9px;stroke:#111;stroke-width:0.28px" fill="#111">P Eq. using reactant T</text>
<text x="281.4" y="416.6" text-anchor="middle" textLength="6.8" lengthAdjust="spacingAndGlyphs" style="font-family:'Liberation Serif','Times New Roman',serif;font-style:italic;font-size:12px" fill="#262626">λ</text>
<text transform="translate(159.2,312.2) rotate(-90)" text-anchor="middle" textLength="45" lengthAdjust="spacingAndGlyphs" style="font-family:'Liberation Serif','Times New Roman',serif;font-style:italic;font-size:10.6px;stroke:#262626;stroke-width:0.1px" fill="#262626">P(GPa)</text>
<text x="281.6" y="437.3" text-anchor="middle" style="font-family:'Liberation Sans',Arial,sans-serif;font-size:11.3px;stroke:#262626;stroke-width:0.28px" fill="#262626">(c)</text>
</svg></body></html>
